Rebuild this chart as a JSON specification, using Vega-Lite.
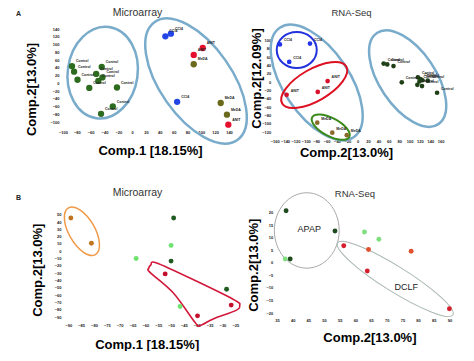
{
"$schema": "https://vega.github.io/schema/vega-lite/v6.json",
"background": "white",
"padding": {"left": 16, "top": 7, "right": 0, "bottom": 0},
"columns": 2,
"spacing": {"row": 71.7, "column": 38.7},
"bounds": "flush",
"align": "each",
"resolve": {"scale": {"color": "independent"}},
"config": {
  "view": {"stroke": null},
  "font": "Liberation Sans",
  "axis": {"labelFontSize": 4, "labelFontWeight": "bold", "labelColor": "#222", "labelFont": "Liberation Sans", "ticks": false, "domain": false, "grid": false, "labelOverlap": false, "labelFlush": false, "titleFont": "Liberation Sans", "titleFontSize": 13, "titleFontWeight": "bold", "titleColor": "#000", "titleBaseline": "middle", "titleAlign": "center"},
  "title": {"font": "Liberation Sans"}
},
"datasets": {
  "aL": [
    {"x": -87, "y": 44, "group": "Control"}, {"x": -84, "y": 30, "group": "Control"}, {"x": -79, "y": 9, "group": "Control"},
    {"x": -62, "y": -12, "group": "Control"}, {"x": -52, "y": 24, "group": "Control"}, {"x": -49, "y": 6, "group": "Control"},
    {"x": -44, "y": 42, "group": "Control"}, {"x": -43, "y": 15, "group": "Control"}, {"x": -22, "y": -11, "group": "Control"},
    {"x": -28, "y": -60, "group": "Control"}, {"x": -45, "y": -79, "group": "Control"},
    {"x": 48, "y": 121, "group": "CCl4"}, {"x": 56, "y": 128, "group": "CCl4"}, {"x": 65, "y": -48, "group": "CCl4"},
    {"x": 102, "y": 91, "group": "ANIT"}, {"x": 89, "y": 73, "group": "ANIT"}, {"x": 139, "y": -107, "group": "ANIT"},
    {"x": 89, "y": 49, "group": "MeDA"}, {"x": 128, "y": -51, "group": "MeDA"}, {"x": 137, "y": -81, "group": "MeDA"}
  ],
  "aR": [
    {"x": 50, "y": 45, "group": "Control"}, {"x": 57, "y": 43, "group": "Control"}, {"x": 69, "y": 39, "group": "Control"},
    {"x": 85, "y": 0, "group": "Control"}, {"x": 116, "y": 12, "group": "Control"}, {"x": 121, "y": 8, "group": "Control"},
    {"x": 119, "y": 2, "group": "Control"}, {"x": 125, "y": 5, "group": "Control"}, {"x": 135, "y": 4, "group": "Control"},
    {"x": 115, "y": -6, "group": "Control"}, {"x": 124, "y": -9, "group": "Control"}, {"x": 153, "y": -25, "group": "Control"},
    {"x": -150, "y": 91, "group": "CCl4"}, {"x": -92, "y": 93, "group": "CCl4"}, {"x": -132, "y": 49, "group": "CCl4"},
    {"x": -58, "y": 3, "group": "ANIT"}, {"x": -77, "y": -23, "group": "ANIT"}, {"x": -137, "y": -30, "group": "ANIT"},
    {"x": -78, "y": -97, "group": "MeDA"}, {"x": -49, "y": -121, "group": "MeDA"}, {"x": -21, "y": -127, "group": "MeDA"}
  ],
  "bL": [
    {"x": -89, "y": 45.5, "group": "G1"}, {"x": -81, "y": 11, "group": "G1"},
    {"x": -49, "y": 45.5, "group": "G2"}, {"x": -50, "y": -13.5, "group": "G2"}, {"x": -28.4, "y": -52, "group": "G2"},
    {"x": -50, "y": 8, "group": "G3"}, {"x": -63.6, "y": -10, "group": "G3"}, {"x": -46.5, "y": -75.6, "group": "G3"},
    {"x": -52.3, "y": -31, "group": "G4"}, {"x": -26.6, "y": -73.7, "group": "G4"}, {"x": -39.7, "y": -88.4, "group": "G4"}
  ],
  "bR": [
    {"x": 37.6, "y": 1.6, "group": "G3"}, {"x": 62.9, "y": 12.4, "group": "G3"}, {"x": 67.5, "y": 9.5, "group": "G3"},
    {"x": 37.9, "y": 20.9, "group": "G2"}, {"x": 53.5, "y": 12.8, "group": "G2"}, {"x": 39.2, "y": 1.6, "group": "G2"},
    {"x": 56.3, "y": 6.9, "group": "G4"}, {"x": 63.8, "y": -3.2, "group": "G4"}, {"x": 90, "y": -18.3, "group": "G4"},
    {"x": 64.2, "y": 5.4, "group": "G5"}, {"x": 77.8, "y": 4.7, "group": "G5"}
  ],
  "ellipses": [
    {"id": "aL1", "x": -42.6, "y": 27.5}, {"id": "aL2", "x": 92.3, "y": 5.8},
    {"id": "aR1", "x": -79, "y": -0.5}, {"id": "aR2", "x": 96.3, "y": 9.1}, {"id": "aR3", "x": -117.5, "y": 77.6},
    {"id": "aR4", "x": -83.8, "y": -6.5}, {"id": "aR5", "x": -52, "y": -107.5},
    {"id": "bL1", "x": -84.7, "y": 27.4},
    {"id": "bR1", "x": 44.5, "y": 13.0}, {"id": "bR2", "x": 72.7, "y": -6.4}
  ],
  "outline": [
    {"i": 1, "x": -57.9, "y": -18.8}, {"i": 2, "x": -55.6, "y": -16.1}, {"i": 3, "x": -40.0, "y": -41.2},
    {"i": 4, "x": -25.1, "y": -67.2}, {"i": 5, "x": -23.3, "y": -74.5}, {"i": 6, "x": -24.7, "y": -80.9},
    {"i": 7, "x": -33.6, "y": -92.7}, {"i": 8, "x": -38.8, "y": -101.8}, {"i": 9, "x": -40.7, "y": -97.3},
    {"i": 10, "x": -49.1, "y": -57.1}, {"i": 11, "x": -58.2, "y": -28.9}, {"i": 12, "x": -58.7, "y": -23.5}
  ],
  "notes": [
    {"x": 45.3, "y": 13.4, "text": "APAP"}, {"x": 76.2, "y": -9.7, "text": "DCLF"}
  ]
},
"concat": [
  {
    "width": 166, "height": 93,
    "title": {"text": "A", "anchor": "start", "frame": "group", "dx": -47, "offset": -10, "fontSize": 7, "fontWeight": "bold", "color": "#222"},
    "resolve": {"axis": {"x": "independent", "y": "independent"}},
    "layer": [
      {"data": {"name": "ellipses"}, "transform": [{"filter": "datum.id === 'aL1'"}],
       "mark": {"type": "point", "shape": "M -0.76 0 A 0.76 1 0 1 0 0.76 0 A 0.76 1 0 1 0 -0.76 0 Z", "size": 8464, "angle": 8, "filled": false, "stroke": "#79abcb", "strokeWidth": 2.5, "opacity": 1},
       "encoding": {"x": {"field": "x", "type": "quantitative", "scale": {"domain": [-100, 140], "nice": false, "zero": false}, "axis": null},
                    "y": {"field": "y", "type": "quantitative", "scale": {"domain": [-100, 140], "nice": false, "zero": false}, "axis": null}}},
      {"data": {"name": "ellipses"}, "transform": [{"filter": "datum.id === 'aL2'"}],
       "mark": {"type": "point", "shape": "M -1 0 A 1 0.5 0 1 0 1 0 A 1 0.5 0 1 0 -1 0 Z", "size": 20736, "angle": 55, "filled": false, "stroke": "#79abcb", "strokeWidth": 2.5, "opacity": 1},
       "encoding": {"x": {"field": "x", "type": "quantitative", "scale": {"domain": [-100, 140], "nice": false, "zero": false}, "axis": null},
                    "y": {"field": "y", "type": "quantitative", "scale": {"domain": [-100, 140], "nice": false, "zero": false}, "axis": null}}},
      {"data": {"name": "aL"}, "mark": {"type": "circle", "size": 40, "opacity": 1},
       "encoding": {
         "x": {"field": "x", "type": "quantitative", "scale": {"domain": [-100, 140], "nice": false, "zero": false},
               "axis": {"orient": "bottom", "title": "Comp.1 [18.15%]", "values": [-100, -80, -60, -40, -20, 0, 20, 40, 60, 80, 100, 120, 140], "labelPadding": 8, "titleX": 87, "titleY": 28}},
         "y": {"field": "y", "type": "quantitative", "scale": {"domain": [-100, 140], "nice": false, "zero": false},
               "axis": {"title": "Comp.2[13.0%]", "values": [-100, -80, -60, -40, -20, 0, 20, 40, 60, 80, 100, 120, 140], "labelPadding": 4, "titleX": -32, "titleY": 60}},
         "color": {"field": "group", "type": "nominal", "scale": {"domain": ["Control", "CCl4", "ANIT", "MeDA"], "range": ["#2d6b1f", "#2345e6", "#e4102c", "#6b6a1c"]}, "legend": null}}},
      {"data": {"name": "aL"}, "mark": {"type": "text", "fontSize": 3.5, "fontWeight": "bold", "color": "#222", "align": "left", "dx": 4, "dy": -5},
       "encoding": {
         "x": {"field": "x", "type": "quantitative", "scale": {"domain": [-100, 140], "nice": false, "zero": false},
               "axis": {"orient": "top", "title": "Microarray", "labels": false, "titleFontSize": 10.5, "titleFontWeight": "normal", "titleColor": "#333", "titleX": 74, "titleY": -17}},
         "y": {"field": "y", "type": "quantitative", "scale": {"domain": [-100, 140], "nice": false, "zero": false}, "axis": null},
         "text": {"field": "group"}}}
    ]
  },
  {
    "width": 166, "height": 103.3,
    "resolve": {"axis": {"x": "independent", "y": "independent"}},
    "layer": [
      {"data": {"name": "ellipses"}, "transform": [{"filter": "datum.id === 'aR1'"}],
       "mark": {"type": "point", "shape": "M -1 0 A 1 0.5 0 1 0 1 0 A 1 0.5 0 1 0 -1 0 Z", "size": 17424, "angle": 56, "filled": false, "stroke": "#79abcb", "strokeWidth": 2.5, "opacity": 1},
       "encoding": {"x": {"field": "x", "type": "quantitative", "scale": {"domain": [-160, 160], "nice": false, "zero": false}, "axis": null},
                    "y": {"field": "y", "type": "quantitative", "scale": {"domain": [-120, 128], "nice": false, "zero": false}, "axis": null}}},
      {"data": {"name": "ellipses"}, "transform": [{"filter": "datum.id === 'aR2'"}],
       "mark": {"type": "point", "shape": "M -1 0 A 1 0.51 0 1 0 1 0 A 1 0.51 0 1 0 -1 0 Z", "size": 12100, "angle": 56, "filled": false, "stroke": "#79abcb", "strokeWidth": 2.5, "opacity": 1},
       "encoding": {"x": {"field": "x", "type": "quantitative", "scale": {"domain": [-160, 160], "nice": false, "zero": false}, "axis": null},
                    "y": {"field": "y", "type": "quantitative", "scale": {"domain": [-120, 128], "nice": false, "zero": false}, "axis": null}}},
      {"data": {"name": "ellipses"}, "transform": [{"filter": "datum.id === 'aR3'"}],
       "mark": {"type": "point", "shape": "M -1 0 A 1 0.9 0 1 0 1 0 A 1 0.9 0 1 0 -1 0 Z", "size": 1600, "angle": 0, "filled": false, "stroke": "#2233dd", "strokeWidth": 2, "opacity": 1},
       "encoding": {"x": {"field": "x", "type": "quantitative", "scale": {"domain": [-160, 160], "nice": false, "zero": false}, "axis": null},
                    "y": {"field": "y", "type": "quantitative", "scale": {"domain": [-120, 128], "nice": false, "zero": false}, "axis": null}}},
      {"data": {"name": "ellipses"}, "transform": [{"filter": "datum.id === 'aR4'"}],
       "mark": {"type": "point", "shape": "M -1 0 A 1 0.43 0 1 0 1 0 A 1 0.43 0 1 0 -1 0 Z", "size": 5476, "angle": -30, "filled": false, "stroke": "#dd1122", "strokeWidth": 2, "opacity": 1},
       "encoding": {"x": {"field": "x", "type": "quantitative", "scale": {"domain": [-160, 160], "nice": false, "zero": false}, "axis": null},
                    "y": {"field": "y", "type": "quantitative", "scale": {"domain": [-120, 128], "nice": false, "zero": false}, "axis": null}}},
      {"data": {"name": "ellipses"}, "transform": [{"filter": "datum.id === 'aR5'"}],
       "mark": {"type": "point", "shape": "M -1 0 A 1 0.43 0 1 0 1 0 A 1 0.43 0 1 0 -1 0 Z", "size": 1764, "angle": 28, "filled": false, "stroke": "#3a8a1a", "strokeWidth": 2, "opacity": 1},
       "encoding": {"x": {"field": "x", "type": "quantitative", "scale": {"domain": [-160, 160], "nice": false, "zero": false}, "axis": null},
                    "y": {"field": "y", "type": "quantitative", "scale": {"domain": [-120, 128], "nice": false, "zero": false}, "axis": null}}},
      {"data": {"name": "aR"}, "mark": {"type": "circle", "size": 22, "opacity": 1},
       "encoding": {
         "x": {"field": "x", "type": "quantitative", "scale": {"domain": [-160, 160], "nice": false, "zero": false},
               "axis": {"orient": "bottom", "title": "Comp.2[13.0%]", "values": [-160, -140, -120, -100, -80, -60, -40, -20, 0, 20, 40, 60, 80, 100, 120, 140, 160], "labelPadding": 7, "titleX": 71.3, "titleY": 20}},
         "y": {"field": "y", "type": "quantitative", "scale": {"domain": [-120, 128], "nice": false, "zero": false},
               "axis": {"title": "Comp.2[12.09%]", "values": [-120, -100, -80, -60, -40, -20, 0, 20, 40, 60, 80, 100], "labelPadding": 4, "titleX": -18, "titleY": 49}},
         "color": {"field": "group", "type": "nominal", "scale": {"domain": ["Control", "CCl4", "ANIT", "MeDA"], "range": ["#1f4016", "#2233ee", "#d8102c", "#8a6a2a"]}, "legend": null}}},
      {"data": {"name": "aR"}, "mark": {"type": "text", "fontSize": 3.5, "fontWeight": "bold", "color": "#222", "align": "left", "dx": 4, "dy": -4},
       "encoding": {
         "x": {"field": "x", "type": "quantitative", "scale": {"domain": [-160, 160], "nice": false, "zero": false},
               "axis": {"orient": "top", "title": "RNA-Seq", "labels": false, "titleFontSize": 9.5, "titleFontWeight": "normal", "titleColor": "#333", "titleX": 76.3, "titleY": -17}},
         "y": {"field": "y", "type": "quantitative", "scale": {"domain": [-120, 128], "nice": false, "zero": false}, "axis": null},
         "text": {"field": "group"}}}
    ]
  },
  {
    "width": 172.3, "height": 112.3,
    "title": {"text": "B", "anchor": "start", "frame": "group", "dx": -47, "offset": -13, "fontSize": 7, "fontWeight": "bold", "color": "#222"},
    "resolve": {"axis": {"x": "independent", "y": "independent"}},
    "layer": [
      {"data": {"name": "ellipses"}, "transform": [{"filter": "datum.id === 'bL1'"}],
       "mark": {"type": "point", "shape": "M -1 0 A 1 0.48 0 1 0 1 0 A 1 0.48 0 1 0 -1 0 Z", "size": 2916, "angle": 60, "filled": false, "stroke": "#f09a48", "strokeWidth": 1.5, "opacity": 1},
       "encoding": {"x": {"field": "x", "type": "quantitative", "scale": {"domain": [-92.06, -25], "nice": false, "zero": false},
                          "axis": {"orient": "top", "title": "Microarray", "labels": false, "titleFontSize": 10.5, "titleFontWeight": "normal", "titleColor": "#333", "titleX": 74, "titleY": -12}},
                    "y": {"field": "y", "type": "quantitative", "scale": {"domain": [-90, 63.7], "nice": false, "zero": false}, "axis": null}}},
      {"data": {"name": "outline"}, "mark": {"type": "line", "interpolate": "cardinal-closed", "stroke": "#d2183a", "strokeWidth": 1.6},
       "encoding": {"x": {"field": "x", "type": "quantitative", "scale": {"domain": [-92.06, -25], "nice": false, "zero": false}, "axis": null},
                    "y": {"field": "y", "type": "quantitative", "scale": {"domain": [-90, 63.7], "nice": false, "zero": false}, "axis": null},
                    "order": {"field": "i", "type": "quantitative"}}},
      {"data": {"name": "bL"}, "mark": {"type": "circle", "size": 24, "opacity": 1},
       "encoding": {
         "x": {"field": "x", "type": "quantitative", "scale": {"domain": [-92.06, -25], "nice": false, "zero": false},
               "axis": {"orient": "bottom", "title": "Comp.1 [18.15%]", "values": [-90, -85, -80, -75, -70, -65, -60, -55, -50, -45, -40, -35, -30, -25], "labelPadding": 6, "titleX": 83.7, "titleY": 27}},
         "y": {"field": "y", "type": "quantitative", "scale": {"domain": [-90, 63.7], "nice": false, "zero": false},
               "axis": {"title": "Comp.2[13.0%]", "values": [-90, -80, -70, -60, -50, -40, -30, -20, -10, 0, 10, 20, 30, 40, 50], "labelPadding": 2, "titleX": -25.3, "titleY": 65}},
         "color": {"field": "group", "type": "nominal", "scale": {"domain": ["G1", "G2", "G3", "G4"], "range": ["#c0741e", "#1f5a1f", "#6fe36f", "#c4102e"]}, "legend": null}}}
    ]
  },
  {
    "width": 174.7, "height": 108.3,
    "resolve": {"axis": {"x": "independent", "y": "independent"}},
    "layer": [
      {"data": {"name": "ellipses"}, "transform": [{"filter": "datum.id === 'bR1'"}],
       "mark": {"type": "point", "shape": "M -0.86 0 A 0.86 1 0 1 0 0.86 0 A 0.86 1 0 1 0 -0.86 0 Z", "size": 5685, "angle": 0, "filled": false, "stroke": "#a8a8a8", "strokeWidth": 1, "opacity": 1},
       "encoding": {"x": {"field": "x", "type": "quantitative", "scale": {"domain": [34.27, 90], "nice": false, "zero": false}, "axis": null},
                    "y": {"field": "y", "type": "quantitative", "scale": {"domain": [-20, 23.3], "nice": false, "zero": false}, "axis": null}}},
      {"data": {"name": "ellipses"}, "transform": [{"filter": "datum.id === 'bR2'"}],
       "mark": {"type": "point", "shape": "M -1 0 A 1 0.184 0 1 0 1 0 A 1 0.184 0 1 0 -1 0 Z", "size": 18496, "angle": 32, "filled": false, "stroke": "#a9b8b0", "strokeWidth": 1, "opacity": 1},
       "encoding": {"x": {"field": "x", "type": "quantitative", "scale": {"domain": [34.27, 90], "nice": false, "zero": false}, "axis": null},
                    "y": {"field": "y", "type": "quantitative", "scale": {"domain": [-20, 23.3], "nice": false, "zero": false}, "axis": null}}},
      {"data": {"name": "bR"}, "mark": {"type": "circle", "size": 24, "opacity": 1},
       "encoding": {
         "x": {"field": "x", "type": "quantitative", "scale": {"domain": [34.27, 90], "nice": false, "zero": false},
               "axis": {"orient": "bottom", "title": "Comp.2[13.0%]", "values": [35, 40, 45, 50, 55, 60, 65, 70, 75, 80, 85, 90], "labelPadding": 5, "titleX": 94.7, "titleY": 24}},
         "y": {"field": "y", "type": "quantitative", "scale": {"domain": [-20, 23.3], "nice": false, "zero": false},
               "axis": {"title": "Comp.2[13.0%]", "values": [-20, -15, -10, -5, 0, 5, 10, 15, 20], "labelPadding": 2, "titleX": -21, "titleY": 60}},
         "color": {"field": "group", "type": "nominal", "scale": {"domain": ["G2", "G3", "G4", "G5"], "range": ["#1e4a1e", "#80e080", "#d4202e", "#e0502c"]}, "legend": null}}},
      {"data": {"name": "notes"}, "mark": {"type": "text", "fontSize": 9, "color": "#222", "align": "center", "baseline": "middle"},
       "encoding": {
         "x": {"field": "x", "type": "quantitative", "scale": {"domain": [34.27, 90], "nice": false, "zero": false},
               "axis": {"orient": "top", "title": "RNA-Seq", "labels": false, "titleFontSize": 9.5, "titleFontWeight": "normal", "titleColor": "#333", "titleX": 79.7, "titleY": -11}},
         "y": {"field": "y", "type": "quantitative", "scale": {"domain": [-20, 23.3], "nice": false, "zero": false}, "axis": null},
         "text": {"field": "text"}}}
    ]
  }
]
}
